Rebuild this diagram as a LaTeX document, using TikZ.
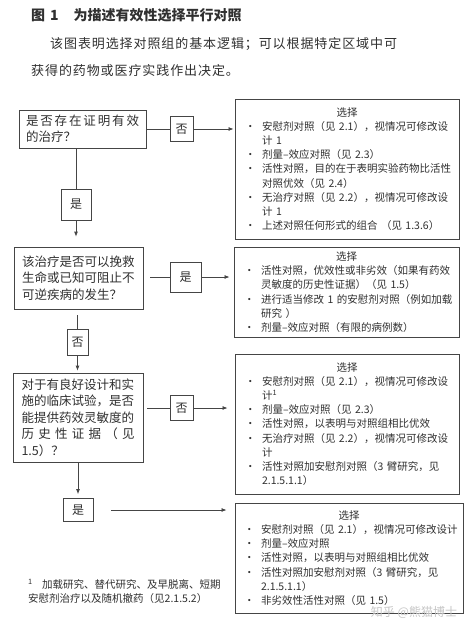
\documentclass[tikz,border=0pt]{standalone}
\usepackage{fontspec}
\setmainfont{Noto Sans CJK SC}
\usetikzlibrary{arrows.meta}
\definecolor{ink}{HTML}{303030}
\definecolor{edge}{HTML}{454545}
\def\spreadEnd{\relax}
\newcommand\spreadline[2]{\makebox[#1][s]{\spreadA#2\spreadEnd}}
\def\spreadA#1{#1\spreadB}
\def\spreadB#1{\ifx#1\spreadEnd\else\hfill#1\expandafter\spreadB\fi}
\newcommand\hd{\noindent\makebox[\linewidth]{选择}\par}
\newcommand\bi{\par\noindent\hangindent=22pt\hangafter=1\makebox[22pt][l]{\hspace{5pt}•}}
\tikzset{
  qbox/.style={draw=edge, line width=0.8pt, text=ink, text width=113pt, inner xsep=7pt, inner ysep=3pt,
    align=left, font=\fontsize{12.5}{16.5}\selectfont},
  lbox/.style={draw=edge, line width=0.8pt, text=ink, inner sep=0pt, font=\fontsize{12}{14}\selectfont},
  rbox/.style={draw=edge, line width=0.9pt, text=ink, inner xsep=5pt, inner ysep=3pt, align=left,
    font=\fontsize{10.5}{14.2}\selectfont},
  conn/.style={draw=edge, line width=0.8pt},
  arr/.style={conn, -{Latex[length=5pt,width=4pt]}},
  plain/.style={text=ink, inner sep=0pt, anchor=west}
}
\begin{document}
\begin{tikzpicture}[x=1pt,y=-1pt]
\fill[white] (0,0) rectangle (474,631);
\useasboundingbox (0,0) rectangle (474,631);

% header
\node[plain, font=\bfseries\fontsize{14}{16}\selectfont] (title) at (31,15) {图\hspace{5pt}1\hspace{15pt}为描述有效性选择平行对照};
\node[plain, font=\fontsize{13}{15}\selectfont\addfontfeatures{LetterSpace=7}] (p1) at (50,44) {该图表明选择对照组的基本逻辑；可以根据特定区域中可};
\node[plain, font=\fontsize{13}{15}\selectfont\addfontfeatures{LetterSpace=7}] (p2) at (31,71) {获得的药物或医疗实践作出决定。};

% questions
\node[qbox, minimum width=127pt, minimum height=38pt] (q1) at (82.5,129) {\spreadline{113pt}{是否存在证明有效}\newline 的治疗？};
\node[qbox, minimum width=129pt, minimum height=62pt] (q2) at (78.5,278) {该治疗是否可以挽救\newline 生命或已知可阻止不\newline 可逆疾病的发生？};
\node[qbox, minimum width=130pt, minimum height=89pt] (q3) at (78,417.5) {对于有良好设计和实\newline 施的临床试验，是否\newline 能提供药效灵敏度的\newline \spreadline{113pt}{历史性证据（见}\newline 1.5）？};

% labels
\node[lbox, minimum width=23pt, minimum height=25pt] (no1) at (181.5,129) {否};
\node[lbox, minimum width=30pt, minimum height=31pt] (yes1) at (76,204.5) {是};
\node[lbox, minimum width=31pt, minimum height=30pt] (yes2) at (185.5,277) {是};
\node[lbox, minimum width=21pt, minimum height=26pt] (no2) at (77.5,342) {否};
\node[lbox, minimum width=23pt, minimum height=25pt] (no3) at (181.5,408) {否};
\node[lbox, minimum width=30pt, minimum height=23pt] (yes3) at (78,510) {是};

% option boxes
\node[rbox, text width=214pt, minimum width=224pt, minimum height=140pt] (r1) at (347,169) {\hd
\bi 安慰剂对照（见~2.1），视情况可修改设\newline 计~1
\bi 剂量–效应对照（见~2.3）
\bi 活性对照，目的在于表明实验药物比活性\newline 对照优效（见~2.4）
\bi 无治疗对照（见~2.2），视情况可修改设\newline 计~1
\bi 上述对照任何形式的组合~（见~1.3.6）\par};

\node[rbox, text width=215pt, minimum width=225pt, minimum height=90pt] (r2) at (346.5,292) {\hd
\bi 活性对照，优效性或非劣效（如果有药效\newline 灵敏度的历史性证据）（见~1.5）
\bi 进行适当修改~1~的安慰剂对照（例如加载\newline 研究~）
\bi 剂量–效应对照（有限的病例数）\par};

\node[rbox, text width=214pt, minimum width=224pt, minimum height=140pt] (r3) at (347,424) {\hd
\bi 安慰剂对照（见~2.1），视情况可修改设\newline 计\textsuperscript{1}
\bi 剂量–效应对照（见~2.3）
\bi 活性对照，以表明与对照组相比优效
\bi 无治疗对照（见~2.2），视情况可修改设\newline 计
\bi 活性对照加安慰剂对照（3~臂研究，见\newline 2.1.5.1.1）\par};

\node[rbox, text width=220pt, inner xsep=4pt, minimum width=228pt, minimum height=110pt] (r4) at (349,558) {\hd
\bi 安慰剂对照（见~2.1），视情况可修改设计
\bi 剂量–效应对照
\bi 活性对照，以表明与对照组相比优效
\bi 活性对照加安慰剂对照（3~臂研究，见\newline 2.1.5.1.1）
\bi 非劣效性活性对照（见~1.5）\par};

% footnote and watermark
\node[plain, align=left, font=\fontsize{10.5}{14}\selectfont] (fn) at (28,591) {\makebox[14pt][l]{\textsuperscript{1}}加载研究、替代研究、及早脱离、短期\\安慰剂治疗以及随机撤药（见2.1.5.2）};
\node[text=gray!45, inner sep=0pt, font=\fontsize{12}{14}\selectfont] (wm) at (414,612) {知乎 @熊猫博士};

% connectors
\draw[conn] (q1.east) -- (no1.west);
\draw[arr, shorten >=1pt] (no1.east) -- (no1.east -| r1.west);
\draw[conn] (q1.south -| yes1) -- (yes1.north);
\draw[arr, shorten >=10pt] (yes1.south) -- (yes1.south |- q2.north);
\draw[conn, shorten <=7pt] (q2.east |- yes2) -- (yes2.west);
\draw[arr, shorten >=4pt] (yes2.east) -- (yes2.east -| r2.west);
\draw[conn, shorten <=6pt] (q2.south -| no2) -- (no2.north);
\draw[arr, shorten >=2pt] (no2.south) -- (no2.south |- q3.north);
\draw[conn, shorten <=4pt] (q3.east |- no3) -- (no3.west);
\draw[arr, shorten >=7pt] (no3.east) -- (no3.east -| r3.west);
\draw[arr, shorten >=4pt] (q3.south -| yes3) -- (yes3.north);
\draw[arr, shorten <=18pt, shorten >=8pt] (yes3.east) -- (yes3.east -| r4.west);
\end{tikzpicture}
\end{document}
